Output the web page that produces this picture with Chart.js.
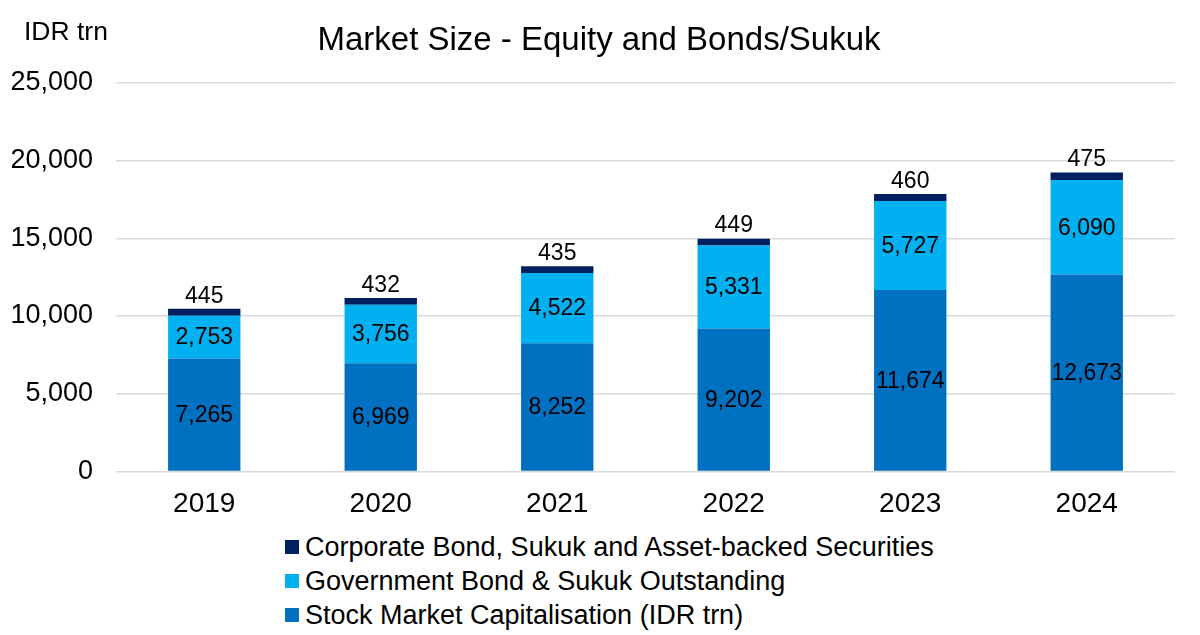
<!DOCTYPE html>
<html>
<head>
<meta charset="utf-8">
<script src="https://cdn.jsdelivr.net/npm/chart.js@4.4.1/dist/chart.umd.min.js"></script>
<style>
  body { margin: 0; background: #fff; font-family: "Liberation Sans", Arial, sans-serif; }
  #wrap { position: relative; width: 1200px; height: 529px; }
  #legend { position: absolute; left: 285px; top: 530px; font-size: 27px; color: #000; }
  #legend div { height: 34px; line-height: 34px; }
  #legend span { display: inline-block; width: 14px; height: 14px; margin-right: 6px; vertical-align: 2px; }
</style>
</head>
<body>
<div id="wrap"><canvas id="myChart"></canvas></div>
<div id="legend"></div>
<script>
var years = ['2019', '2020', '2021', '2022', '2023', '2024'];
var stockCap = [7265, 6969, 8252, 9202, 11674, 12673];
var govBonds = [2753, 3756, 4522, 5331, 5727, 6090];
var corpBonds = [445, 432, 435, 449, 460, 475];

var seriesNames = [
    'Stock Market Capitalisation (IDR trn)',
    'Government Bond & Sukuk Outstanding',
    'Corporate Bond, Sukuk and Asset-backed Securities'
];
var seriesColors = ['#0070C0', '#00B0F0', '#002060'];

function fmt(v) {
    return v.toLocaleString('en-US');
}

// labels inside bars, corporate one sits on top
var barLabels = {
    id: 'barLabels',
    afterDatasetsDraw(chart) {
        var ctx = chart.ctx;
        ctx.save();
        ctx.fillStyle = '#000';
        ctx.font = '23px "Liberation Sans", Arial, sans-serif';
        ctx.textAlign = 'center';
        chart.data.datasets.forEach(function (ds, i) {
            var meta = chart.getDatasetMeta(i);
            meta.data.forEach(function (bar, j) {
                var val = ds.data[j];
                if (i == 2) {
                    ctx.textBaseline = 'bottom';
                    ctx.fillText(fmt(val), bar.x, bar.y - 1);
                } else {
                    ctx.textBaseline = 'middle';
                    ctx.fillText(fmt(val), bar.x, (bar.y + bar.base) / 2 + 1);
                }
            });
        });
        // title and unit
        ctx.textBaseline = 'middle';
        ctx.font = '33px "Liberation Sans", Arial, sans-serif';
        ctx.fillText('Market Size - Equity and Bonds/Sukuk', 599, 41);
        ctx.font = '26.5px "Liberation Sans", Arial, sans-serif';
        ctx.textAlign = 'left';
        ctx.fillText('IDR trn', 24, 33);
        ctx.restore();
    }
};

var ctx = document.getElementById('myChart').getContext('2d');
var myChart = new Chart(ctx, {
    type: 'bar',
    data: {
        labels: years,
        datasets: [
            { label: seriesNames[0], data: stockCap, backgroundColor: seriesColors[0] },
            { label: seriesNames[1], data: govBonds, backgroundColor: seriesColors[1] },
            { label: seriesNames[2], data: corpBonds, backgroundColor: seriesColors[2] }
        ]
    },
    options: {
        responsive: true,
        maintainAspectRatio: false,
        animation: false,
        layout: { padding: { top: 83, right: 25, left: 0, bottom: 0 } },
        datasets: { bar: { barPercentage: 0.82, categoryPercentage: 0.5 } },
        plugins: {
            legend: { display: false },
            tooltip: { enabled: false }
        },
        scales: {
            x: {
                stacked: true,
                grid: { display: false },
                border: { display: false },
                ticks: { color: '#000', font: { size: 28, family: '"Liberation Sans", Arial, sans-serif' }, padding: 8 }
            },
            y: {
                stacked: true,
                min: 0,
                max: 25000,
                afterFit: function (scale) { scale.width = 116; },
                grid: { color: '#d9d9d9', lineWidth: 1.5, drawTicks: false },
                border: { display: false },
                ticks: {
                    stepSize: 5000,
                    color: '#000',
                    padding: 23,
                    font: { size: 27, family: '"Liberation Sans", Arial, sans-serif' },
                    callback: function (v) { return fmt(v); }
                }
            }
        }
    },
    plugins: [barLabels]
});

// legend in reversed order like the source
var legendBox = document.getElementById('legend');
for (var i = seriesNames.length - 1; i >= 0; i--) {
    var row = document.createElement('div');
    row.innerHTML = '<span style="background:' + seriesColors[i] + '"></span>' + seriesNames[i];
    legendBox.appendChild(row);
}
</script>
</body>
</html>
